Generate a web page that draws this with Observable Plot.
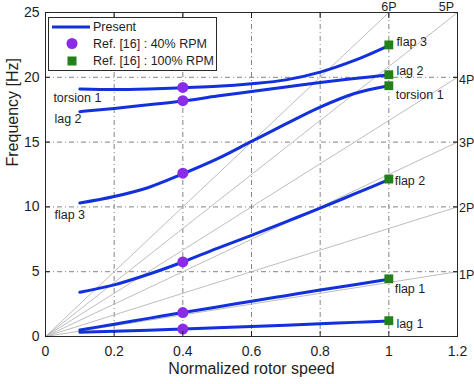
<!DOCTYPE html>
<html><head><meta charset="utf-8">
<script src="https://cdn.jsdelivr.net/npm/d3@7"></script>
<script src="https://cdn.jsdelivr.net/npm/@observablehq/plot@0.6"></script>
<style>body{margin:0;background:#fff} #chart svg{display:block}</style>
</head><body><div id="chart"></div>
<script>
// ---- data ----
const speed = [0.1, 0.2, 0.3, 0.4, 0.5, 0.6, 0.7, 0.8, 0.9, 1.0];
const lag1   = [0.33, 0.41, 0.49, 0.58, 0.67, 0.77, 0.87, 0.98, 1.09, 1.2];
const flap1  = [0.5, 0.95, 1.4, 1.85, 2.28, 2.72, 3.15, 3.58, 4.0, 4.42];
const flap2  = [3.42, 3.98, 4.8, 5.75, 6.8, 7.8, 8.85, 9.9, 11.0, 12.1];
const flap3ToTorsion1 = [10.3, 10.8, 11.5, 12.55, 13.7, 15.05, 16.4, 17.7, 18.75, 19.35];
const lag2   = [17.35, 17.6, 17.88, 18.17, 18.55, 18.9, 19.25, 19.6, 19.9, 20.2];
const torsion1ToFlap3 = [19.1, 19.05, 19.1, 19.2, 19.3, 19.5, 19.8, 20.4, 21.3, 22.45];
const curveNames = ["lag 1", "flap 1", "flap 2", "flap 3 - torsion 1", "lag 2", "torsion 1 - flap 3"];
const curveValues = [lag1, flap1, flap2, flap3ToTorsion1, lag2, torsion1ToFlap3];

const ref40Speed = 0.4;
const ref40 = [0.57, 1.85, 5.75, 12.6, 18.2, 19.22];
const ref100Speed = 1.0;
const ref100 = [1.22, 4.45, 12.15, 19.35, 20.2, 22.5];

const xTicks = [0, 0.2, 0.4, 0.6, 0.8, 1, 1.2];
const yTicks = [0, 5, 10, 15, 20, 25];
const gridX = [0.2, 0.4, 0.6, 0.8, 1.0];
const gridY = [5, 10, 15, 20];

const perRev = ["1P", "2P", "3P", "4P", "5P", "6P"];
const perRevEndX = [1.2, 1.2, 1.2, 1.2, 1.2, 1.0];
const perRevEndY = [5, 10, 15, 20, 25, 25];
const perRevLabelX = [1.2, 1.2, 1.2, 1.2, 1.168, 1.0];
const perRevLabelY = [4.75, 9.95, 14.9, 19.8, 25.4, 25.4];

const leftLabels = ["torsion 1", "lag 2", "flap 3"];
const leftLabelX = [0.023, 0.026, 0.026];
const leftLabelY = [18.44, 16.8, 9.34];
const rightLabels = ["flap 3", "lag 2", "torsion 1", "flap 2", "flap 1", "lag 1"];
const rightLabelX = [1.022, 1.022, 1.02, 1.017, 1.017, 1.022];
const rightLabelY = [22.76, 20.45, 18.6, 11.96, 3.7, 1.0];

const legendItems = ["Present", "Ref. [16] : 40% RPM", "Ref. [16] : 100% RPM"];

// ---- build tables ----
const rows = curveNames.flatMap((name, i) => speed.map((s, j) => ({curve: name, x: s, y: curveValues[i][j]})));
const ref40Rows = ref40.map(v => ({x: ref40Speed, y: v}));
const ref100Rows = ref100.map(v => ({x: ref100Speed, y: v}));
const perRevRows = perRev.map((p, i) => ({p, x2: perRevEndX[i], y2: perRevEndY[i], lx: perRevLabelX[i], ly: perRevLabelY[i]}));
const leftRows = leftLabels.map((t, i) => ({t, x: leftLabelX[i], y: leftLabelY[i]}));
const rightRows = rightLabels.map((t, i) => ({t, x: rightLabelX[i], y: rightLabelY[i]}));

const BLUE = "#1230dc", PURPLE = "#8a2be8", GREEN = "#23801a", INK = "#1e1e1e";
const gridStyle = {stroke: "#222", strokeWidth: 0.8, strokeDasharray: "5,3,1,3", strokeOpacity: 0.7};

const plot = Plot.plot({
  width: 474, height: 384,
  marginLeft: 45, marginRight: 17, marginTop: 12, marginBottom: 48,
  x: {domain: [0, 1.2]},
  y: {domain: [0, 25]},
  style: {fontFamily: "'Liberation Sans', Arial, sans-serif", fontSize: "14px", background: "#fff", color: INK, overflow: "visible"},
  marks: [
    Plot.ruleX(gridX, {...gridStyle}),
    Plot.ruleY(gridY, {...gridStyle}),
    Plot.link(perRevRows, {x1: () => 0, y1: () => 0, x2: "x2", y2: "y2", stroke: "#b5b5b5", strokeWidth: 0.9}),
    Plot.line(rows, {x: "x", y: "y", z: "curve", stroke: BLUE, strokeWidth: 3, curve: "monotone-x"}),
    Plot.dot(ref40Rows, {x: "x", y: "y", r: 5.5, fill: PURPLE, stroke: "none"}),
    Plot.dot(ref100Rows, {x: "x", y: "y", r: 5, symbol: "square", fill: GREEN, stroke: "none"}),
    Plot.text(leftRows, {x: "x", y: "y", text: "t", textAnchor: "start", fontSize: 12.5, fill: INK}),
    Plot.text(rightRows, {x: "x", y: "y", text: "t", textAnchor: "start", fontSize: 12.5, fill: INK}),
    Plot.text(perRevRows.slice(0, 4), {x: "lx", y: "ly", text: "p", textAnchor: "start", dx: 1.5, fontSize: 12.5, fill: INK, clip: false}),
    Plot.text(perRevRows.slice(4), {x: "lx", y: "ly", text: "p", textAnchor: "middle", fontSize: 12.5, fill: INK, clip: false}),
    Plot.frame({stroke: "#2a2a2a", strokeWidth: 1}),
    Plot.axisX({anchor: "bottom", ticks: xTicks, tickSize: -5, tickPadding: 15, tickFormat: d => String(d), label: null, fontSize: 14}),
    Plot.axisX({anchor: "top", ticks: xTicks, tickSize: -5, tickFormat: () => "", label: null}),
    Plot.axisY({anchor: "left", ticks: yTicks, tickSize: -5, tickPadding: 11, tickFormat: d => String(d), label: null, fontSize: 14}),
    Plot.axisY({anchor: "right", ticks: yTicks, tickSize: -5, tickFormat: () => "", label: null}),
    Plot.text(["Normalized rotor speed"], {frameAnchor: "bottom", dy: 37, fontSize: 16, fill: INK}),
    Plot.text(["Frequency [Hz]"], {frameAnchor: "left", rotate: -90, dx: -33, dy: -8, fontSize: 16, fill: INK})
  ]
});

// ---- legend (inside the axes, upper-left) ----
const svg = d3.select(plot);
const lg = svg.append("g")
  .attr("font-family", "'Liberation Sans', Arial, sans-serif")
  .attr("font-size", "12.5px")
  .attr("text-anchor", "start")
  .attr("fill", INK);
lg.append("rect").attr("x", 48.5).attr("y", 17.5).attr("width", 168).attr("height", 53).attr("fill", "#fff").attr("stroke", "#2a2a2a").attr("stroke-width", 1);
lg.append("line").attr("x1", 52).attr("x2", 90).attr("y1", 27).attr("y2", 27).attr("stroke", BLUE).attr("stroke-width", 3);
lg.append("circle").attr("cx", 72).attr("cy", 43.5).attr("r", 5.5).attr("fill", PURPLE);
lg.append("rect").attr("x", 67.5).attr("y", 56.5).attr("width", 9).attr("height", 9).attr("fill", GREEN);
legendItems.forEach((t, i) => {
  lg.append("text").attr("x", 93).attr("y", [27, 43.5, 61][i]).attr("dy", "0.35em").attr("text-anchor", "start").text(t);
});

document.getElementById("chart").appendChild(plot);
</script>
</body></html>
